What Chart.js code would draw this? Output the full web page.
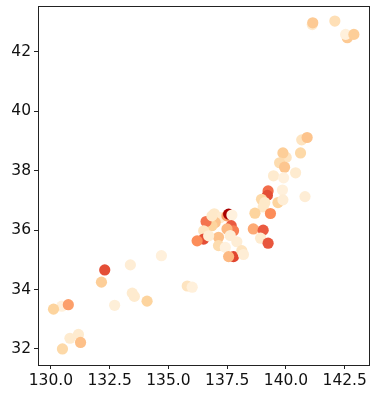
<!DOCTYPE html>
<html>
<head>
<meta charset="utf-8">
<script src="https://cdn.jsdelivr.net/npm/chart.js@4/dist/chart.umd.min.js"></script>
<style>
  html, body { margin: 0; padding: 0; background: #fff; }
  #wrap { width: 375px; height: 397px; }
</style>
</head>
<body>
<div id="wrap"><canvas id="scatterChart" width="375" height="397"></canvas></div>
<script>
// longitude / latitude / colour value (0..1 on OrRd)
const lon = [
  141.12, 141.14, 142.08, 142.61, 142.54, 142.89,
  140.67, 140.90, 140.62, 140.01, 139.87, 139.73, 139.94, 140.41, 139.47, 139.90,
  139.85, 140.81, 139.24, 139.21, 138.96, 139.10, 139.66, 139.87, 139.03, 139.34,
  138.68, 138.61, 139.03, 138.92, 139.24,
  136.95, 137.20, 137.49, 137.56, 137.70, 137.67, 137.77, 137.49, 137.13, 136.99,
  136.85, 136.60, 136.85, 136.50, 136.50, 136.22, 136.71, 137.13, 137.42, 137.77,
  137.56, 137.91, 138.12, 138.19, 137.63,
  132.29, 132.15, 133.38, 134.70, 133.46, 133.55, 134.09, 132.71, 135.80, 136.01,
  130.46, 130.74, 130.11, 131.17, 130.81, 131.26, 130.49
];
const lat = [
  42.92, 42.98, 43.04, 42.48, 42.59, 42.59,
  39.04, 39.12, 38.60, 38.45, 38.60, 38.27, 38.12, 37.93, 37.83, 37.76,
  37.35, 37.13, 37.32, 37.17, 37.04, 36.93, 36.93, 37.02, 36.78, 36.56,
  36.57, 36.04, 36.00, 35.73, 35.56,
  36.55, 36.42, 36.48, 36.54, 36.51, 36.15, 35.98, 36.04, 35.76, 36.26,
  36.15, 36.29, 36.48, 35.98, 35.70, 35.64, 35.81, 35.48, 35.42, 35.11,
  35.11, 35.61, 35.31, 35.18, 35.82,
  34.66, 34.25, 34.83, 35.14, 33.88, 33.77, 33.61, 33.47, 34.12, 34.08,
  33.44, 33.49, 33.34, 32.49, 32.36, 32.22, 32.00
];
const val = [
  0.10, 0.30, 0.18, 0.30, 0.06, 0.28,
  0.15, 0.33, 0.22, 0.15, 0.28, 0.20, 0.32, 0.10, 0.10, 0.05,
  0.06, 0.08, 0.60, 0.68, 0.22, 0.12, 0.25, 0.08, 0.12, 0.50,
  0.25, 0.42, 0.65, 0.10, 0.66,
  0.12, 0.10, 0.45, 0.90, 0.05, 0.65, 0.55, 0.38, 0.35, 0.33,
  0.25, 0.58, 0.12, 0.15, 0.68, 0.50, 0.08, 0.20, 0.05, 0.70,
  0.38, 0.08, 0.15, 0.08, 0.08,
  0.68, 0.28, 0.08, 0.06, 0.10, 0.10, 0.25, 0.07, 0.15, 0.06,
  0.06, 0.45, 0.25, 0.10, 0.10, 0.35, 0.22
];
const xTicks = [130, 132.5, 135, 137.5, 140, 142.5];
const yTicks = [32, 34, 36, 38, 40, 42];

// OrRd colormap
const orrd = ['#fff7ec', '#fee8c8', '#fdd49e', '#fdbb84', '#fc8d59', '#ef6548', '#d7301f', '#b30000', '#7f0000'];
function hexRgb(h) {
  return [parseInt(h.slice(1, 3), 16), parseInt(h.slice(3, 5), 16), parseInt(h.slice(5, 7), 16)];
}
function cmap(t) {
  const p = Math.max(0, Math.min(1, t)) * (orrd.length - 1);
  const i = Math.min(Math.floor(p), orrd.length - 2);
  const f = p - i;
  const a = hexRgb(orrd[i]), b = hexRgb(orrd[i + 1]);
  const c = a.map((v, k) => Math.round(v + (b[k] - v) * f));
  return `rgb(${c[0]},${c[1]},${c[2]})`;
}

const points = lon.map((x, i) => ({ x: x, y: lat[i] }));
const colors = val.map(cmap);

const boxPlugin = {
  id: 'box',
  afterDraw(chart) {
    const a = chart.chartArea;
    const ctx = chart.ctx;
    ctx.save();
    ctx.strokeStyle = '#222';
    ctx.lineWidth = 1;
    ctx.strokeRect(Math.round(a.left) + 0.5, Math.round(a.top) + 0.5,
      Math.round(a.right - a.left), Math.round(a.bottom - a.top));
    ctx.restore();
  }
};

const tickFont = { family: 'DejaVu Sans', size: 15.5 };

new Chart(document.getElementById('scatterChart'), {
  type: 'scatter',
  data: {
    datasets: [{
      data: points,
      backgroundColor: colors,
      borderWidth: 0,
      pointRadius: 5.6,
      pointHoverRadius: 5.6
    }]
  },
  options: {
    responsive: false,
    animation: false,
    layout: { padding: { top: 2, right: 2, left: 0, bottom: 0 } },
    plugins: { legend: { display: false }, tooltip: { enabled: false } },
    scales: {
      x: {
        type: 'linear',
        min: 129.45,
        max: 143.55,
        afterBuildTicks: (s) => { s.ticks = xTicks.map(v => ({ value: v })); },
        afterFit: (s) => { s.height = 32; s.paddingLeft = 0; s.paddingRight = 0; },
        grid: { display: true, drawOnChartArea: false, drawTicks: true, tickLength: 4, color: '#222' },
        border: { display: false },
        ticks: { color: '#111', font: tickFont, padding: 3, maxRotation: 0,
          callback: (v) => Number(v).toFixed(1) }
      },
      y: {
        type: 'linear',
        min: 31.46,
        max: 43.56,
        afterBuildTicks: (s) => { s.ticks = yTicks.map(v => ({ value: v })); },
        afterFit: (s) => { s.width = 38; s.paddingTop = 0; s.paddingBottom = 0; },
        grid: { display: true, drawOnChartArea: false, drawTicks: true, tickLength: 4, color: '#222' },
        border: { display: false },
        ticks: { color: '#111', font: tickFont, padding: 3,
          callback: (v) => String(v) }
      }
    }
  },
  plugins: [boxPlugin]
});
</script>
</body>
</html>
